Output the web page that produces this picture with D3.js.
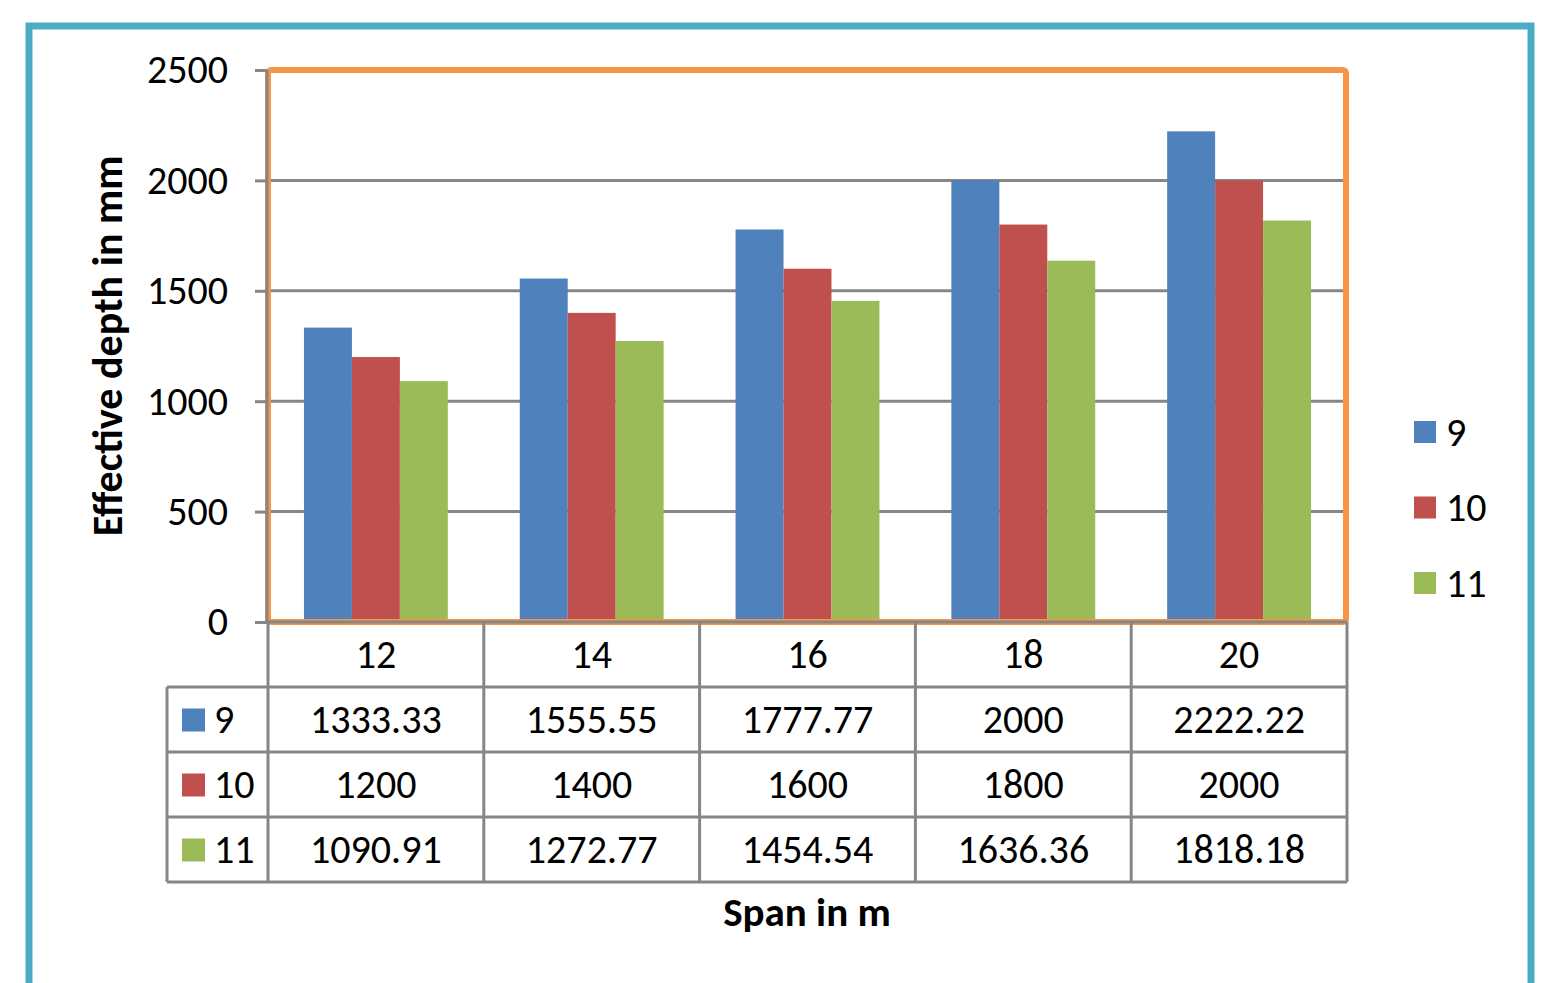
<!DOCTYPE html>
<html><head><meta charset="utf-8">
<script src="https://cdn.jsdelivr.net/npm/d3@7"></script>
<style>
html,body{margin:0;padding:0;background:#fff;}
svg{display:block;}
text{font-family:Carlito, Lato, "Open Sans", sans-serif;fill:#000;}
</style></head>
<body>
<svg id="chart" width="1549" height="983"></svg>
<script>
const categories = ["12","14","16","18","20"];
const seriesNames = ["9","10","11"];
const values9  = [1333.33,1555.55,1777.77,2000,2222.22];
const values10 = [1200,1400,1600,1800,2000];
const values11 = [1090.91,1272.77,1454.54,1636.36,1818.18];
const valueLabels9  = ["1333.33","1555.55","1777.77","2000","2222.22"];
const valueLabels10 = ["1200","1400","1600","1800","2000"];
const valueLabels11 = ["1090.91","1272.77","1454.54","1636.36","1818.18"];
const yTicks = [0,500,1000,1500,2000,2500];
const colors = ["#4F81BD","#C0504D","#9BBB59"];

const seriesValues = [values9, values10, values11];
const seriesLabels = [valueLabels9, valueLabels10, valueLabels11];

const svg = d3.select("#chart");
const gray = "#868686";
const fs = 40;
const fsb = 41;

// outer frame
svg.append("rect").attr("x",29).attr("y",26).attr("width",1502).attr("height",1000)
  .attr("fill","none").attr("stroke","#4BACC6").attr("stroke-width",7);

const x = d3.scaleBand().domain(categories).range([268,1347]).paddingInner(0).paddingOuter(0);
const xs = d3.scaleBand().domain(seriesNames).range([0,x.bandwidth()]).paddingInner(0).paddingOuter(0.75);
const y = d3.scaleLinear().domain([0,2500]).range([622,70]);

// gridlines
svg.append("g").selectAll("line").data(yTicks.filter(d=>d>0)).join("line")
  .attr("x1",268).attr("x2",1346).attr("y1",d=>y(d)).attr("y2",d=>y(d))
  .attr("stroke",gray).attr("stroke-width",3);

// bars
const groups = svg.append("g").selectAll("g").data(seriesNames).join("g")
  .attr("fill",(d,i)=>colors[i]);
groups.selectAll("rect").data((s,i)=>categories.map((c,j)=>({c, s, v:seriesValues[i][j]}))).join("rect")
  .attr("x",d=>x(d.c)+xs(d.s)).attr("width",xs.bandwidth())
  .attr("y",d=>y(d.v)).attr("height",d=>y(0)-y(d.v));

// plot border
svg.append("rect").attr("x",268).attr("y",y(2500)).attr("width",1346-268).attr("height",y(0)-y(2500))
  .attr("fill","none").attr("stroke","#F79646").attr("stroke-width",6).attr("rx",3);

// y axis
const yAxis = d3.axisLeft(y).tickValues(yTicks).tickSize(12).tickPadding(27).tickFormat(d3.format("d"));
const ya = svg.append("g").attr("transform","translate(267,0)").call(yAxis);
ya.select(".domain").attr("stroke",gray).attr("stroke-width",3).attr("d","M0,70V622");
ya.selectAll(".tick line").attr("stroke",gray).attr("stroke-width",3);
ya.selectAll(".tick text").attr("font-size",fs).attr("font-family","Carlito, Lato, sans-serif").attr("fill","#000");

// x axis line
svg.append("line").attr("x1",266).attr("x2",1347).attr("y1",y(0)).attr("y2",y(0))
  .attr("stroke",gray).attr("stroke-width",3);

// data table
const rows = d3.scaleBand().domain(["head"].concat(seriesNames)).range([622,882]);
const tbl = svg.append("g");
tbl.selectAll("line.h").data(seriesNames.concat(["end"])).join("line").attr("class","h")
  .attr("x1",167).attr("x2",1347)
  .attr("y1",d=> d==="end" ? rows.range()[1] : rows(d))
  .attr("y2",d=> d==="end" ? rows.range()[1] : rows(d))
  .attr("stroke",gray).attr("stroke-width",3);
const vx = categories.map(c=>x(c)).concat([x(categories[categories.length-1])+x.bandwidth()]);
tbl.selectAll("line.v").data(vx).join("line").attr("class","v")
  .attr("x1",d=>d).attr("x2",d=>d).attr("y1",622).attr("y2",882)
  .attr("stroke",gray).attr("stroke-width",3);
tbl.append("line").attr("x1",167).attr("x2",167).attr("y1",rows(seriesNames[0])).attr("y2",882)
  .attr("stroke",gray).attr("stroke-width",3);

tbl.selectAll("text.hd").data(categories).join("text").attr("class","hd")
  .attr("x",d=>x(d)+x.bandwidth()/2).attr("y",rows("head")+rows.bandwidth()/2)
  .attr("text-anchor","middle").attr("dominant-baseline","central").attr("font-size",fs).text(d=>d);

seriesNames.forEach((s,i)=>{
  const cy = rows(s)+rows.bandwidth()/2;
  tbl.append("rect").attr("x",182).attr("y",cy-11).attr("width",23).attr("height",23).attr("fill",colors[i]);
  tbl.append("text").attr("x",214).attr("y",cy).attr("dominant-baseline","central").attr("font-size",fs).text(s);
  tbl.selectAll("text.r"+i).data(categories).join("text").attr("class","r"+i)
    .attr("x",d=>x(d)+x.bandwidth()/2).attr("y",cy)
    .attr("text-anchor","middle").attr("dominant-baseline","central").attr("font-size",fs)
    .text((d,j)=>seriesLabels[i][j]);
});

// legend
const legY = d3.scalePoint().domain(seriesNames).range([432,583]);
const leg = svg.append("g");
seriesNames.forEach((s,i)=>{
  leg.append("rect").attr("x",1414).attr("y",legY(s)-11).attr("width",22).attr("height",22).attr("fill",colors[i]);
  leg.append("text").attr("x",1446).attr("y",legY(s)).attr("dominant-baseline","central").attr("font-size",fs).text(s);
});

// axis titles
svg.append("text").attr("x",807).attr("y",926).attr("text-anchor","middle")
  .attr("font-size",fsb).attr("font-weight","bold").text("Span in m");
svg.append("text").attr("transform","translate(122,346) rotate(-90)").attr("text-anchor","middle")
  .attr("font-size",42).attr("font-weight","bold").text("Effective depth in mm");
</script>
</body></html>
